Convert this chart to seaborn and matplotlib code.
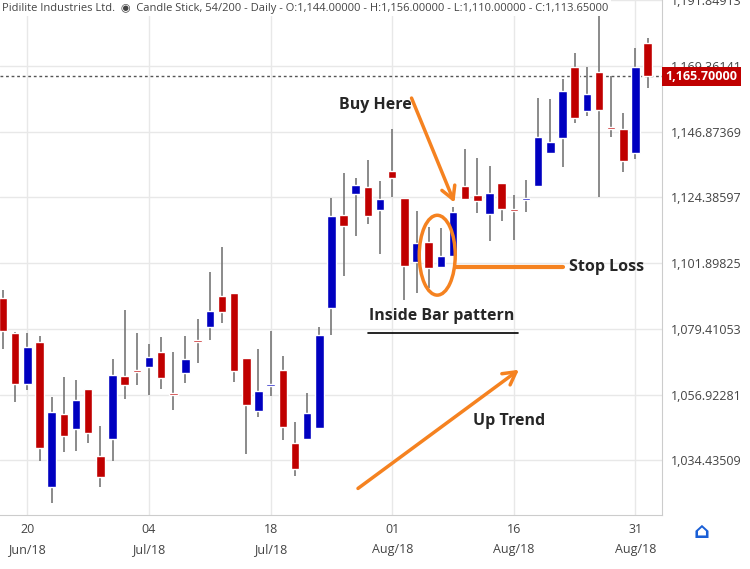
import numpy as np
import matplotlib
matplotlib.use("Agg")
import matplotlib.pyplot as plt
from matplotlib.patches import Ellipse
import seaborn as sns

opens = [1089.9,1077.9,1060.5,1074.9,1025.4,1050.3,1045.2,1058.8,1035.9,1041.7,1063.3,1065.3,1066.3,1071.5,1057.1,1064.3,1075.2,1080.0,1090.6,1091.6,1069.4,1051.3,1059.8,1065.3,1040.4,1041.7,1045.5,1086.5,1118.2,1125.4,1127.8,1119.9,1133.3,1124.0,1102.2,1109.0,1100.5,1104.2,1128.1,1125.1,1118.6,1129.2,1120.3,1123.4,1128.1,1139.4,1144.5,1169.1,1153.8,1167.4,1148.3,1147.6,1139.4,1177.0]
highs = [1092.6,1078.3,1077.9,1076.9,1056.1,1062.9,1061.9,1058.8,1046.2,1069.1,1085.8,1077.9,1074.2,1076.6,1071.5,1076.9,1082.7,1098.8,1107.3,1091.6,1069.4,1072.5,1078.6,1070.1,1047.6,1057.5,1080.0,1124.0,1132.6,1130.9,1137.0,1129.8,1147.9,1124.0,1119.6,1114.1,1113.8,1121.0,1140.8,1138.0,1135.0,1129.2,1125.1,1130.2,1158.5,1157.9,1165.0,1173.6,1168.8,1191.0,1166.0,1153.1,1175.6,1179.0]
lows = [1072.5,1054.4,1058.5,1034.2,1019.9,1037.3,1037.6,1040.4,1025.4,1034.2,1055.4,1060.2,1056.8,1058.8,1051.6,1060.9,1067.7,1075.6,1081.4,1061.2,1036.6,1049.3,1056.4,1041.4,1029.1,1041.7,1045.5,1077.3,1097.4,1111.1,1115.2,1104.9,1124.4,1089.2,1091.6,1093.3,1100.5,1104.2,1123.7,1118.9,1109.4,1116.2,1109.7,1119.3,1128.1,1139.4,1134.6,1149.7,1152.1,1124.4,1144.9,1132.9,1137.4,1161.6]
closes = [1078.6,1060.5,1073.2,1038.7,1051.0,1042.8,1055.1,1043.8,1028.8,1063.6,1060.2,1064.6,1069.8,1062.6,1056.8,1069.1,1074.9,1085.4,1085.1,1065.0,1053.4,1058.1,1060.2,1045.9,1031.5,1050.6,1077.3,1117.9,1114.5,1128.5,1117.9,1123.7,1130.9,1100.8,1108.7,1100.1,1104.2,1119.3,1123.7,1123.0,1125.8,1120.3,1119.6,1124.0,1144.9,1143.2,1160.9,1151.4,1159.6,1154.1,1147.9,1136.7,1168.8,1165.7]
tick_pos = [2, 12, 22, 32, 42, 52]
tick_labels = ["20\n\nJun/18", "04\n\nJul/18", "18\n\nJul/18", "01\n\nAug/18", "16\n\nAug/18", "31\n\nAug/18"]
ytick_vals = [1034.43509, 1056.92281, 1079.41053, 1101.89825, 1124.38597, 1146.87369, 1169.36141, 1191.84913]
last_price = 1165.70

sns.set_style("white")
plt.rcParams['font.family'] = ['Open Sans', 'DejaVu Sans']

fig = plt.figure(figsize=(7.5, 5.69), dpi=100)
ax = fig.add_axes([0.0, 0.095, 0.883, 0.905])
RED, BLUE, ORANGE = "#c00000", "#0000c0", "#f58220"

x = np.arange(len(opens))
o, h, l, c = map(np.array, (opens, highs, lows, closes))
up = c >= o
ax.vlines(x, l, h, color="#777777", lw=1.2, zorder=2)
bottom = np.minimum(o, c)
height = np.maximum(np.abs(c - o), 0.6)
ax.bar(x, height, bottom=bottom, width=0.7, color=np.where(up, BLUE, RED), zorder=3)

ax.set_xlim(-0.25, 54.2)
ax.set_ylim(1015.8, 1191.67)
ax.set_xticks(tick_pos)
ax.set_xticklabels(tick_labels, fontsize=9, color="#444444", linespacing=0.7)
ax.yaxis.tick_right()
ax.set_yticks(ytick_vals)
ax.set_yticklabels([f"{v:,.5f}" for v in ytick_vals], fontsize=9, color="#444444")
for lab in ax.get_yticklabels():
    lab.set_clip_on(False)
ax.tick_params(length=0, pad=6)
ax.grid(True, color="#e8e8e8", lw=1)
for s in ["top", "left"]:
    ax.spines[s].set_visible(False)
ax.spines["right"].set_color("#cccccc")
ax.spines["bottom"].set_color("#cccccc")

ax.axhline(last_price, color="#555555", ls=(0, (2, 2)), lw=1, zorder=1)
ax.text(1.005, last_price, f"{last_price:,.5f}", transform=ax.get_yaxis_transform(),
        va="center", ha="left", fontsize=9, color="white", fontweight="bold",
        bbox=dict(boxstyle="square,pad=0.25", fc="#c00000", ec="none"))

ax.text(0.003, 0.995, "Pidilite Industries Ltd.  \u25C9  Candle Stick, 54/200 - Daily - O:1,144.00000 - H:1,156.00000 - L:1,110.00000 - C:1,113.65000",
        transform=ax.transAxes, ha="left", va="top", fontsize=8, color="#444444",
        bbox=dict(boxstyle="square,pad=0.2", fc="white", ec="none"), zorder=6)

fs = 11.5
ax.text(30.6, 1155.8, "Buy Here", fontsize=fs, fontweight="bold", ha="center", va="center", zorder=7)
ax.annotate("", xy=(37.2, 1121.7), xytext=(33.5, 1159.2),
            arrowprops=dict(arrowstyle="->,head_length=0.9,head_width=0.5", color=ORANGE, lw=2.5), zorder=7)
ax.add_patch(Ellipse((35.7, 1104.6), 2.96, 27.3, fill=False, ec=ORANGE, lw=2.5, zorder=7))
ax.plot([37.2, 46.0], [1100.5, 1100.5], color=ORANGE, lw=3, zorder=7)
ax.text(49.6, 1100.5, "Stop Loss", fontsize=fs, fontweight="bold", ha="center", va="center", zorder=7)
ax.text(36.1, 1083.7, "Inside Bar pattern", fontsize=fs, fontweight="bold", ha="center", va="center", zorder=7)
ax.plot([30.0, 42.3], [1078.0, 1078.0], color="black", lw=1.2, zorder=7)
ax.annotate("", xy=(42.6, 1066.0), xytext=(29.0, 1024.3),
            arrowprops=dict(arrowstyle="->,head_length=0.9,head_width=0.5", color=ORANGE, lw=2.5), zorder=7)
ax.text(41.6, 1047.9, "Up Trend", fontsize=fs, fontweight="bold", ha="center", va="center", zorder=7)

fig.text(0.935, 0.065, "\u2302", fontsize=16, color="#1a5fd6", ha="center", va="center", fontweight="bold")

fig.savefig("out.png", dpi=100)
